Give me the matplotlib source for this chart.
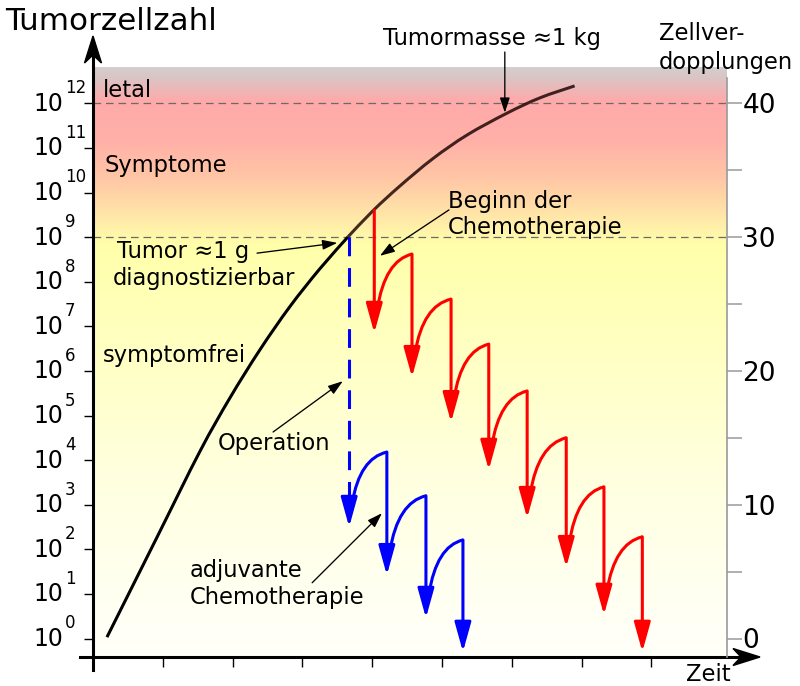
import numpy as np
import matplotlib
matplotlib.use("Agg")
import matplotlib.pyplot as plt
from matplotlib import transforms
from matplotlib.path import Path
from matplotlib.patches import PathPatch, Polygon

plt.rcParams["font.family"] = ["DejaVu Sans"]
plt.rcParams["lines.scale_dashes"] = False

# ---------------- data (time units, log10 of cell number) ----------------
curve_time = [0.20, 0.92, 1.53, 1.96, 2.39, 2.82, 3.25, 3.65, 4.01, 4.40, 4.87, 5.36, 5.92, 6.40, 6.90]
curve_log = [0.03, 2.28, 4.19, 5.39, 6.47, 7.44, 8.29, 9.00, 9.59, 10.15, 10.76, 11.29, 11.77, 12.12, 12.39]
diagnosis_index = 7  # point where tumour reaches ~1 g (10^9 cells)

red_time = [4.03, 4.57, 5.13, 5.67, 6.22, 6.78, 7.32, 7.87]
red_top_log = [9.60, 8.62, 7.61, 6.60, 5.55, 4.50, 3.40, 2.28]
red_tip_log = [6.85, 5.86, 4.85, 3.78, 2.70, 1.60, 0.53, -0.30]

blue_time = [3.67, 4.21, 4.77, 5.30]
blue_top_log = [9.01, 4.18, 3.20, 2.21]
blue_tip_log = [2.50, 1.42, 0.46, -0.30]

left_exponents = list(range(0, 13))
right_major = [0, 10, 20, 30, 40]
right_minor = [5, 15, 25, 35]
x_ticks = [1, 2, 3, 4, 5, 6, 7, 8]
guide_levels = [1e12, 1e9]

# ---------------- figure ----------------
W, H = 800, 686
fig = plt.figure(figsize=(W / 100, H / 100), dpi=100)
pix = transforms.Affine2D().scale(1 / W, -1 / H).translate(0, 1) + fig.transFigure
PT = 72 / 100  # points per pixel

AX_L, AX_R, AX_B, AX_T = 93, 727, 657, 67
rect = [AX_L / W, 1 - AX_B / H, (AX_R - AX_L) / W, (AX_B - AX_T) / H]
XMAX = (AX_R - AX_L) / 69.8
YLO, YHI = (638.5 - AX_B) / 44.6, (638.5 - AX_T) / 44.6

# background gradient
bg = fig.add_axes(rect, zorder=0)
stops_py = [67, 78, 100, 140, 180, 215, 245, 320, 480, 657]
stops_col = ['#d3cfcf', '#dcc4c4', '#ffaaaa', '#ffb0a8', '#ffc8a6', '#ffe6a8',
             '#ffffaa', '#ffffbc', '#ffffe0', '#fffffa']
rgb = np.array([matplotlib.colors.to_rgb(c) for c in stops_col])
rows = np.linspace(67, 657, 600)
grad = np.stack([np.interp(rows, stops_py, rgb[:, k]) for k in range(3)], axis=1)
bg.imshow(grad[:, None, :], aspect='auto', extent=[0, 1, 0, 1], interpolation='bilinear')
bg.set_axis_off()

ax = fig.add_axes(rect, zorder=1)
ax.patch.set_visible(False)
ax.set_yscale('log')
ax.set_xlim(0, XMAX)
ax.set_ylim(10 ** YLO, 10 ** YHI)
for s in ax.spines.values():
    s.set_visible(False)

ax.set_xticks(x_ticks)
ax.tick_params(axis='x', which='major', length=7.5, width=1.0, color='k',
               direction='out', labelbottom=False)
ax.set_yticks([10.0 ** k for k in left_exponents])
ax.yaxis.set_minor_locator(matplotlib.ticker.NullLocator())
ax.tick_params(axis='y', which='major', length=6.5, width=1.0, color='k',
               direction='out', labelleft=False)

# left tick labels: "10" with a raised exponent
ytr = ax.get_yaxis_transform()
base_tr = transforms.offset_copy(ytr, fig=fig, x=0, y=-7.5 * PT, units='points')
exp_tr = transforms.offset_copy(ytr, fig=fig, x=0, y=10 * PT, units='points')
for k in left_exponents:
    ax.text((33 - AX_L) / (AX_R - AX_L), 10.0 ** k, "10", transform=base_tr,
            fontsize=17, ha='left', va='baseline', clip_on=False)
    ax.text((65 - AX_L) / (AX_R - AX_L), 10.0 ** k, str(k), transform=exp_tr,
            fontsize=12, ha='left', va='baseline', clip_on=False)

# dashed guide lines
for lvl in guide_levels:
    ax.axhline(lvl, color='#6a6a6a', lw=0.9, dashes=(5.5, 3.5), zorder=2)

# right axis (doublings)
ax2 = ax.twinx()
ax2.set_ylim(YLO / 0.3, YHI / 0.3)
for k, s in ax2.spines.items():
    s.set_visible(k == 'right')
ax2.spines['right'].set_color('#9a9a9a')
ax2.spines['right'].set_linewidth(1.2)
ax2.spines['right'].set_bounds(YLO / 0.3, (638.5 - 78) / 44.6 / 0.3)
ax2.set_yticks(right_major)
ax2.set_yticks(right_minor, minor=True)
ax2.tick_params(axis='y', which='both', length=10.5, width=1.1, color='#9a9a9a',
                labelcolor='k', labelsize=19, pad=0.5)
ax2.tick_params(axis='y', which='minor', labelright=False)

# axis lines with arrows
ax.add_line(plt.Line2D([93, 93], [670, 55], color='k', lw=2.2, transform=pix, clip_on=False))
ax.add_line(plt.Line2D([80, 741], [657, 657], color='k', lw=2.2, transform=pix, clip_on=False))
ax.add_patch(Polygon([(93, 36), (84.5, 63), (93, 55), (101.5, 63)], closed=True,
                     color='k', transform=pix, clip_on=False))
ax.add_patch(Polygon([(760, 657), (733, 648.5), (741, 657), (733, 665.5)], closed=True,
                     color='k', transform=pix, clip_on=False))


# tumour growth curve: smooth path through the read points (drawn in log space)
def smooth_path(xs, ls):
    P = np.column_stack([xs, ls])
    n = len(P)
    verts, codes = [P[0]], [Path.MOVETO]
    for j in range(n - 1):
        p0 = P[max(j - 1, 0)]
        p1, p2 = P[j], P[j + 1]
        p3 = P[min(j + 2, n - 1)]
        c1 = p1 + (p2 - p0) / 6
        c2 = p2 - (p3 - p1) / 6
        verts += [c1, c2, p2]
        codes += [Path.CURVE4] * 3
    V = np.array(verts)
    V[:, 1] = 10.0 ** V[:, 1]
    return Path(V, codes)


ct = np.array(curve_time)
cl = np.array(curve_log)
i = diagnosis_index
ax.add_patch(PathPatch(smooth_path(ct[:i + 1], cl[:i + 1]), fill=False, ec='k',
                       lw=2.2, capstyle='butt', zorder=3))
ax.add_patch(PathPatch(smooth_path(ct[i:], cl[i:]), fill=False, ec=(0.1, 0.0, 0.0, 0.82),
                       lw=2.2, capstyle='butt', zorder=3))


def drop_arrow(x, top, tip, color, dashed=False):
    style = '-|>,head_length=1.8,head_width=0.5'
    if dashed:
        ax.plot([x, x], [10 ** top, 10 ** (tip + 0.62)], color=color, lw=2.2,
                dashes=(13.5, 8.5), zorder=4)
        start = tip + 0.62
    else:
        start = top
    ax.annotate('', xy=(x, 10 ** tip), xytext=(x, 10 ** start),
                arrowprops=dict(arrowstyle=style, mutation_scale=10, color=color,
                                lw=2.2, shrinkA=0, shrinkB=0), zorder=4)


def regrowth(x0, tip0, x1, top1, color):
    sx, sy = x0 + 3 / 69.8, tip0 + 24 / 44.6
    cx, cyl = sx + 0.22 * (x1 - sx), sy + 0.88 * (top1 - sy)
    path = Path([(sx, 10 ** sy), (cx, 10 ** cyl), (x1, 10 ** top1)],
                [Path.MOVETO, Path.CURVE3, Path.CURVE3])
    ax.add_patch(PathPatch(path, fill=False, ec=color, lw=2.2, zorder=4))


RED, BLUE = '#ff0000', '#0000ff'
for k in range(len(red_time)):
    drop_arrow(red_time[k], red_top_log[k], red_tip_log[k], RED)
    if k + 1 < len(red_time):
        regrowth(red_time[k], red_tip_log[k], red_time[k + 1], red_top_log[k + 1], RED)
for k in range(len(blue_time)):
    drop_arrow(blue_time[k], blue_top_log[k], blue_tip_log[k], BLUE, dashed=(k == 0))
    if k + 1 < len(blue_time):
        regrowth(blue_time[k], blue_tip_log[k], blue_time[k + 1], blue_top_log[k + 1], BLUE)

# annotation pointers
pointers = [((5.90, 13.15), (5.90, 11.79)),
            ((2.35, 8.64), (3.50, 8.87)),
            ((5.10, 9.61), (4.11, 8.58)),
            ((2.58, 4.63), (3.58, 5.77)),
            ((3.14, 1.25), (4.14, 2.81))]
for (x0, y0), (x1, y1) in pointers:
    ax.annotate('', xy=(x1, 10 ** y1), xytext=(x0, 10 ** y0), annotation_clip=False,
                arrowprops=dict(arrowstyle='-|>,head_length=0.9,head_width=0.3',
                                mutation_scale=10, color='k', lw=0.95,
                                shrinkA=0, shrinkB=0), zorder=5)

# texts
FS = 16.3
texts = [("Tumorzellzahl", 5, 30, 22.3),
         ("Tumormasse \u22481 kg", 383, 45, FS),
         ("Zellver-", 659, 40, FS),
         ("dopplungen", 659, 69, FS),
         ("letal", 103, 97, FS),
         ("Symptome", 105, 172, FS),
         ("Tumor \u22481 g", 117, 258, FS),
         ("diagnostizierbar", 113, 285, FS),
         ("symptomfrei", 103, 362, FS),
         ("Beginn der", 448, 208, FS),
         ("Chemotherapie", 448, 234, FS),
         ("Operation", 218, 450, FS),
         ("adjuvante", 190, 577, FS),
         ("Chemotherapie", 190, 604, FS),
         ("Zeit", 686, 681, FS)]
for s, x, y, fs in texts:
    fig.text(x, y, s, transform=pix, fontsize=fs, ha='left', va='baseline',
             color='k', zorder=6)

fig.savefig("out.png", dpi=100)
